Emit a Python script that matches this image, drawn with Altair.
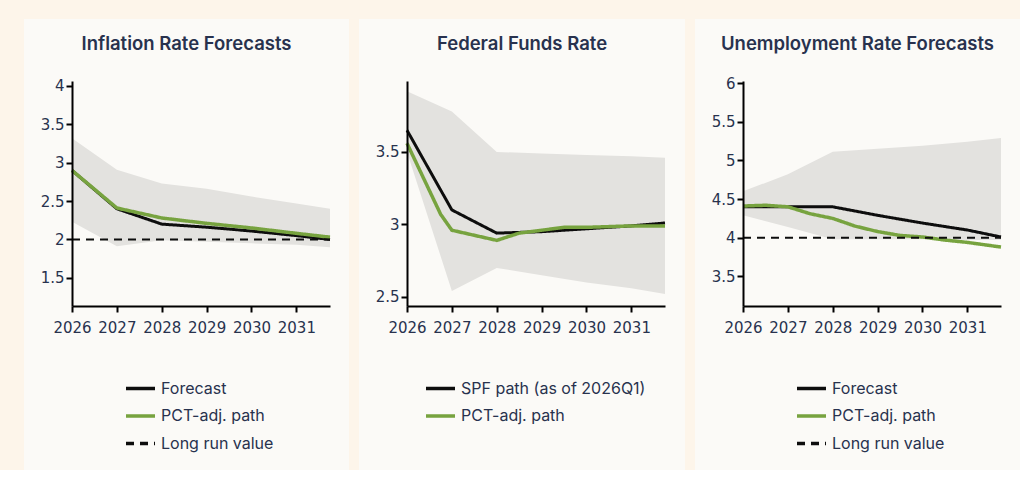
import altair as alt
import pandas as pd

# ---------------- data ----------------
titles = ["Inflation Rate Forecasts", "Federal Funds Rate", "Unemployment Rate Forecasts"]
x_ticks = [2026, 2027, 2028, 2029, 2030, 2031]
x_domain = [2026, 2031.75]

# Inflation
infl_x = [2026, 2027, 2028, 2029, 2030, 2031, 2031.75]
infl_hi = [3.32, 2.91, 2.73, 2.66, 2.56, 2.47, 2.40]
infl_lo = [2.23, 1.91, 1.99, 1.97, 1.95, 1.93, 1.90]
infl_forecast = [2.90, 2.40, 2.20, 2.16, 2.11, 2.05, 2.00]
infl_pct = [2.90, 2.41, 2.28, 2.21, 2.15, 2.08, 2.03]
infl_long_run = 2.0
infl_y_domain = [1.133, 4.065]
infl_y_ticks = [1.5, 2, 2.5, 3, 3.5, 4]

# Federal funds rate
ffr_x = [2026, 2027, 2028, 2029, 2030, 2031, 2031.75]
ffr_hi = [3.92, 3.78, 3.50, 3.49, 3.48, 3.47, 3.46]
ffr_lo = [3.50, 2.54, 2.70, 2.65, 2.60, 2.56, 2.52]
ffr_spf = [3.65, 3.10, 2.94, 2.95, 2.97, 2.99, 3.01]
ffr_pct_x = [2026, 2026.75, 2027, 2028, 2028.5, 2029, 2029.5, 2030, 2031, 2031.75]
ffr_pct = [3.56, 3.07, 2.96, 2.89, 2.94, 2.96, 2.98, 2.98, 2.99, 2.99]
ffr_y_domain = [2.437, 3.99]
ffr_y_ticks = [2.5, 3, 3.5]

# Unemployment
un_x = [2026, 2027, 2028, 2029, 2030, 2031, 2031.75]
un_hi = [4.60, 4.82, 5.11, 5.15, 5.19, 5.24, 5.29]
un_lo = [4.29, 4.14, 3.98, 3.98, 3.98, 3.97, 3.97]
un_forecast = [4.40, 4.40, 4.40, 4.29, 4.19, 4.10, 4.01]
un_pct_x = [2026, 2026.5, 2027, 2027.5, 2028, 2028.5, 2029, 2029.5, 2030, 2030.5, 2031, 2031.75]
un_pct = [4.41, 4.42, 4.40, 4.31, 4.25, 4.15, 4.08, 4.03, 4.01, 3.97, 3.94, 3.88]
un_long_run = 4.0
un_y_domain = [3.118, 6.026]
un_y_ticks = [3.5, 4, 4.5, 5, 5.5, 6]

# ---------------- style ----------------
BG = "#fdf5ea"
CARD = "#fbfaf7"
BAND = "#e3e2df"
BLACK = "#0d0d0d"
GREEN = "#77a33f"
TEXT = "#28324e"
SOLID = [1, 0]
DASH = [8, 6]


def panel(title, band_x, lo, hi, lines, y_domain, y_ticks, legend_x, card_x2):
    card = alt.Chart(pd.DataFrame({"c": [0]})).mark_rect(color=CARD).encode(
        x=alt.value(-48), x2=alt.value(card_x2), y=alt.value(-62), y2=alt.value(389)
    )
    xscale = alt.Scale(domain=x_domain, nice=False, zero=False)
    yscale = alt.Scale(domain=y_domain, nice=False, zero=False)
    xaxis = alt.Axis(values=x_ticks, format="d", title=None, grid=False,
                     tickSize=6, labelPadding=8, zindex=1, labelOverlap=False,
                     labelFlush=False)
    yaxis = alt.Axis(values=y_ticks, format=".1~f", title=None, grid=False,
                     tickSize=6, labelPadding=2, zindex=1, labelFlush=False)
    band_df = pd.DataFrame({"x": band_x, "lo": lo, "hi": hi})
    band = alt.Chart(band_df).mark_area(color=BAND, opacity=1).encode(
        x=alt.X("x:Q", scale=xscale, axis=xaxis),
        y=alt.Y("lo:Q", scale=yscale, axis=yaxis),
        y2="hi:Q",
    )
    labels = [l[0] for l in lines]
    color_scale = alt.Scale(domain=labels, range=[l[3] for l in lines])
    dash_scale = alt.Scale(domain=labels, range=[l[4] for l in lines])
    legend = alt.Legend(
        title=None, orient="none", legendX=legend_x, legendY=291, direction="vertical",
        symbolType="stroke", symbolSize=841, symbolStrokeWidth=3.5,
        labelFont="Inter", labelFontSize=16, labelColor=TEXT, labelOffset=4,
        padding=0, rowPadding=2.5, labelLimit=400,
    )
    layers = [card, band]
    for lab, xs, ys, col, dash, w in lines:
        df = pd.DataFrame({"x": xs, "y": ys, "series": [lab] * len(xs)})
        layers.append(
            alt.Chart(df).mark_line(strokeWidth=w).encode(
                x=alt.X("x:Q", scale=xscale, axis=xaxis),
                y=alt.Y("y:Q", scale=yscale, axis=yaxis),
                color=alt.Color("series:N", scale=color_scale, legend=legend),
                strokeDash=alt.StrokeDash("series:N", scale=dash_scale, legend=legend),
            )
        )
    return alt.layer(*layers).properties(
        width=258, height=225,
        title=alt.Title(title, font="Inter", fontSize=18.5, fontWeight=600, color=TEXT,
                        anchor="middle", frame="bounds", baseline="alphabetic", offset=-49),
    )


p1 = panel(
    titles[0], infl_x, infl_lo, infl_hi,
    [
        ("Forecast", infl_x, infl_forecast, BLACK, SOLID, 3),
        ("PCT-adj. path", infl_x, infl_pct, GREEN, SOLID, 3.5),
        ("Long run value", [infl_x[0], infl_x[-1]], [infl_long_run] * 2, BLACK, DASH, 2),
    ],
    infl_y_domain, infl_y_ticks, 52, 277,
)
p2 = panel(
    titles[1], ffr_x, ffr_lo, ffr_hi,
    [
        ("SPF path (as of 2026Q1)", ffr_x, ffr_spf, BLACK, SOLID, 3),
        ("PCT-adj. path", ffr_pct_x, ffr_pct, GREEN, SOLID, 3.5),
    ],
    ffr_y_domain, ffr_y_ticks, 17, 278,
)
p3 = panel(
    titles[2], un_x, un_lo, un_hi,
    [
        ("Forecast", un_x, un_forecast, BLACK, SOLID, 3),
        ("PCT-adj. path", un_pct_x, un_pct, GREEN, SOLID, 3.5),
        ("Long run value", [un_x[0], un_x[-1]], [un_long_run] * 2, BLACK, DASH, 2),
    ],
    un_y_domain, un_y_ticks, 52, 277,
)

chart = (
    alt.hconcat(p1, p2, p3, spacing=10)
    .resolve_scale(x="independent", y="independent", color="independent", strokeDash="independent")
    .configure(background=BG, padding={"left": 24, "top": 19, "right": 0, "bottom": 0})
    .configure_view(stroke=None)
    .configure_axis(
        domainColor="black", domainWidth=2, tickColor="black", tickWidth=2,
        labelFont="DejaVu Sans", labelFontSize=15, labelColor=TEXT,
    )
)

chart.save("out.html", embed_options={"renderer": "svg", "actions": False})
